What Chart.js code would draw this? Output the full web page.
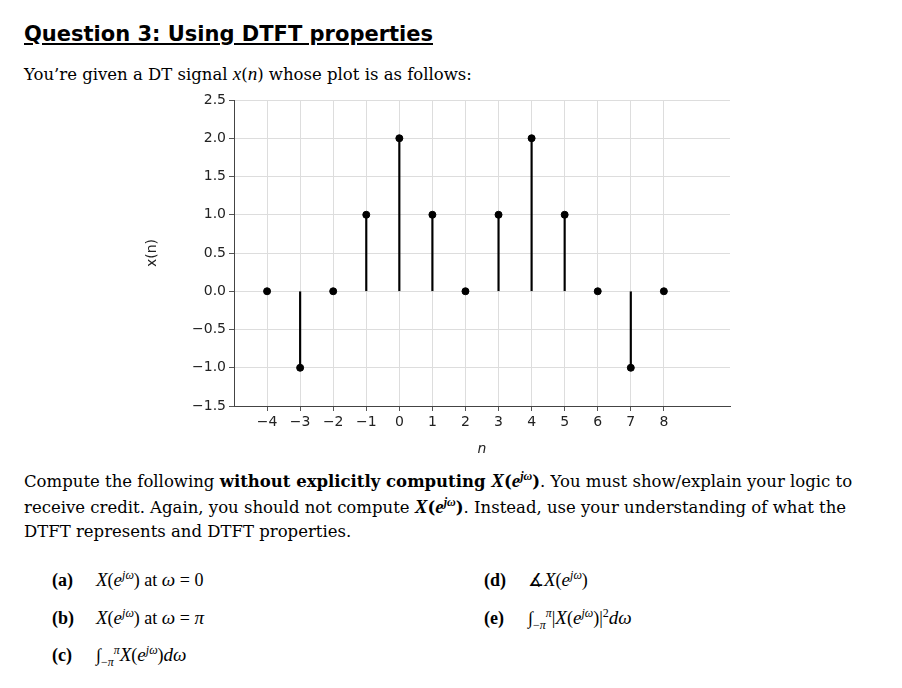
<!DOCTYPE html>
<html>
<head>
<meta charset="utf-8">
<script src="https://cdn.jsdelivr.net/npm/chart.js@4"></script>
<style>
  body { margin: 0; background: #fff; width: 902px; height: 688px; position: relative; overflow: hidden; }
  .t { position: absolute; white-space: nowrap; color: #000; }
  h1 { position: absolute; left: 24px; top: 22px; margin: 0; font: bold 21px "DejaVu Sans", sans-serif; text-decoration: underline; }
  .body { font: 16.5px "DejaVu Serif", serif; }
  .q { font: 18px "Liberation Serif", serif; }
  .q b { font-weight: bold; display: inline-block; width: 44px; }
  i { font-family: "Liberation Serif", serif; font-size: 19px; }
  sup, sub { font-size: 12px; }
  #wrap { position: absolute; left: 140px; top: 88px; width: 600px; height: 372px; }
</style>
</head>
<body>
<h1>Question 3: Using DTFT properties</h1>
<div class="t body" style="left:24px;top:63px">You’re given a DT signal <i>x</i>(<i>n</i>) whose plot is as follows:</div>
<div id="wrap"><canvas id="c"></canvas></div>
<div class="t body" style="left:24px;top:469px">Compute the following <b>without explicitly computing <i>X</i>(<i>e<sup>jω</sup></i>)</b>. You must show/explain your logic to</div>
<div class="t body" style="left:24px;top:495px">receive credit. Again, you should not compute <b><i>X</i>(<i>e<sup>jω</sup></i>)</b>. Instead, use your understanding of what the</div>
<div class="t body" style="left:24px;top:522px">DTFT represents and DTFT properties.</div>
<div class="t q" style="left:52px;top:568px"><b>(a)</b><i>X</i>(<i>e<sup>jω</sup></i>) at <i>ω</i> = 0</div>
<div class="t q" style="left:52px;top:606px"><b>(b)</b><i>X</i>(<i>e<sup>jω</sup></i>) at <i>ω</i> = <i>π</i></div>
<div class="t q" style="left:52px;top:643px"><b>(c)</b>∫<sub>−<i style="font-size:12px">π</i></sub><sup><i style="font-size:12px">π</i></sup><i>X</i>(<i>e<sup>jω</sup></i>)<i>dω</i></div>
<div class="t q" style="left:484px;top:568px"><b>(d)</b>∡<i>X</i>(<i>e<sup>jω</sup></i>)</div>
<div class="t q" style="left:484px;top:606px"><b>(e)</b>∫<sub>−<i style="font-size:12px">π</i></sub><sup><i style="font-size:12px">π</i></sup>|<i>X</i>(<i>e<sup>jω</sup></i>)|<sup>2</sup><i>dω</i></div>
<script>
const nValues = [-4, -3, -2, -1, 0, 1, 2, 3, 4, 5, 6, 7, 8];
const xValues = [0, -1, 0, 1, 2, 1, 0, 1, 2, 1, 0, -1, 0];
const yTicks = [-1.5, -1.0, -0.5, 0.0, 0.5, 1.0, 1.5, 2.0, 2.5];

const tickFont = { family: 'DejaVu Sans', size: 14 };

new Chart(document.getElementById('c'), {
  data: {
    datasets: [{
      type: 'bar',
      data: nValues.map((n, i) => ({ x: n, y: [0, xValues[i]] })),
      backgroundColor: '#000',
      barThickness: 1.5
    }, {
      type: 'scatter',
      data: nValues.map((n, i) => ({ x: n, y: xValues[i] })),
      pointRadius: 3.5,
      pointBackgroundColor: '#000',
      pointBorderColor: '#000'
    }]
  },
  options: {
    responsive: true,
    maintainAspectRatio: false,
    animation: false,
    layout: { padding: { top: 12, right: 10 } },
    plugins: { legend: { display: false }, tooltip: { enabled: false } },
    scales: {
      x: {
        type: 'linear', min: -5, max: 10, offset: false,
        afterBuildTicks: s => { s.ticks = nValues.map(v => ({ value: v })); },
        afterFit: s => { s.height = 54; },
        ticks: { font: tickFont, color: '#222', maxRotation: 0, autoSkip: false, callback: v => String(v).replace('-', '−') },
        grid: { offset: false, color: '#ddd', tickColor: '#555', tickLength: 5 },
        border: { color: '#444' },
        title: { display: true, text: 'n', font: { family: 'DejaVu Sans', size: 14, style: 'italic' }, color: '#222', padding: 2 }
      },
      y: {
        type: 'linear', min: -1.5, max: 2.5,
        afterBuildTicks: s => { s.ticks = yTicks.map(v => ({ value: v })); },
        afterFit: s => { s.width = 94; },
        ticks: { font: tickFont, color: '#222', callback: v => v.toFixed(1).replace('-', '−') },
        grid: { color: '#ddd', tickColor: '#555', tickLength: 5 },
        border: { color: '#444' },
        title: { display: true, text: 'x(n)', font: { family: 'DejaVu Sans', size: 14 }, color: '#222' }
      }
    }
  }
});
</script>
</body>
</html>
